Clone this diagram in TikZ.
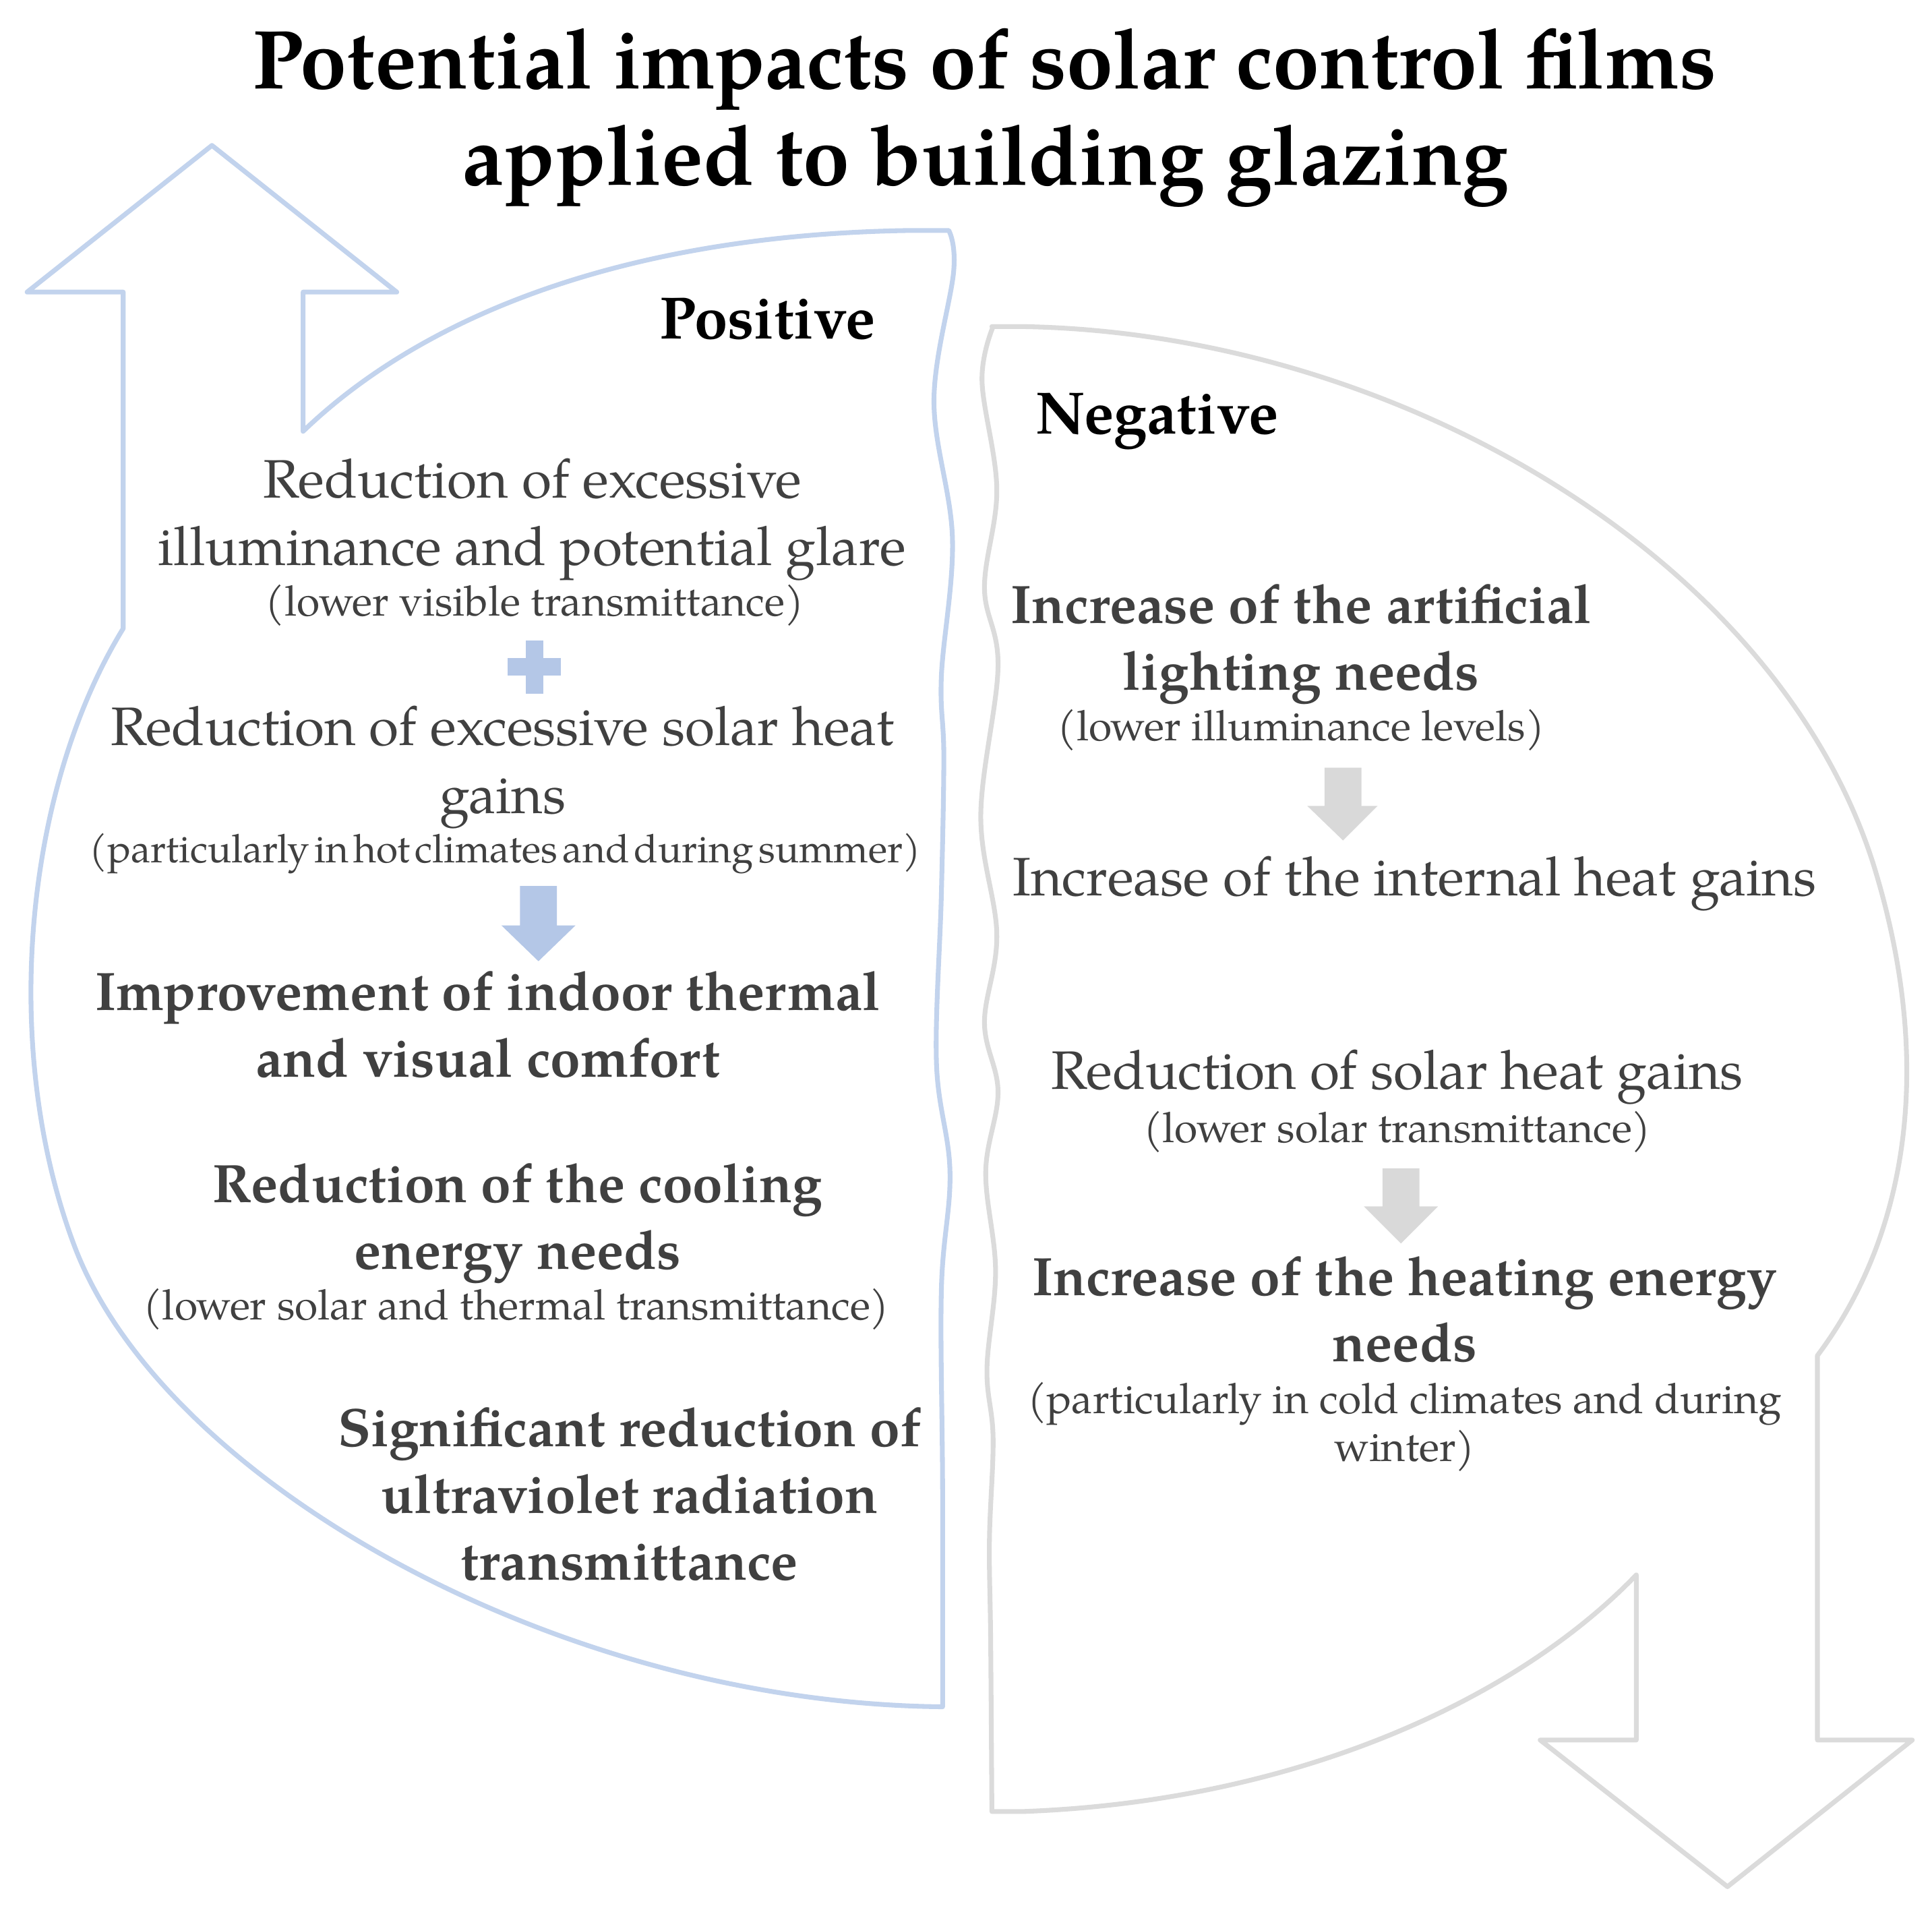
\documentclass[tikz,border=0pt]{standalone}
\usepackage{fontspec}
\setmainfont{texgyrepagella}[Extension=.otf, UprightFont=*-regular, BoldFont=*-bold, ItalicFont=*-italic, BoldItalicFont=*-bolditalic]
\definecolor{blueedge}{RGB}{194,211,237}
\definecolor{bluefill}{RGB}{180,199,231}
\definecolor{grayedge}{RGB}{219,219,219}
\definecolor{grayfill}{RGB}{217,217,217}
\definecolor{txtgray}{RGB}{64,64,64}
\begin{document}
\begin{tikzpicture}[x=0.1mm,y=-0.1mm,
  ttl/.style={anchor=base, inner sep=0pt, font=\fontsize{19.3}{22}\selectfont\bfseries, text=black},
  hd/.style={anchor=base, inner sep=0pt, font=\fontsize{13.8}{16}\selectfont\bfseries, text=black},
  bodyr/.style={anchor=base, inner sep=0pt, font=\fontsize{12.5}{15}\selectfont, text=txtgray},
  bodyb/.style={anchor=base, inner sep=0pt, font=\fontsize{12.5}{15}\selectfont\bfseries, text=txtgray},
  smalltxt/.style={anchor=base, inner sep=0pt, font=\fontsize{9.7}{11}\selectfont, text=txtgray},
  tightsmall/.style={anchor=base, inner sep=0pt, font=\fontsize{9.1}{11}\selectfont, text=txtgray},
  blueline/.style={draw=blueedge, line width=1.1pt, line join=round},
  grayline/.style={draw=grayedge, line width=1.1pt, line join=round},
  bluefillst/.style={fill=bluefill, draw=none},
  grayfillst/.style={fill=grayfill, draw=none}]
\fill[white] (0,0) rectangle (1568,1548);
\useasboundingbox (0,0) rectangle (1568,1548);

% left (positive) outline
\draw[blueline] (172,118) -- (322,237) -- (246,237) -- (246,350)
  .. controls (350,250) and (520,190) .. (740,187) -- (770,187)
  -- plot[smooth, tension=0.6] coordinates {(770,187) (774,220) (758,325) (773,437) (764,549) (766,614) (764,726) (760,862) (771,951) (764,1047) (765,1208) (765,1385)}
  .. controls (450,1382) and (131,1200) .. (60,1010)
  .. controls (0,850) and (20,640) .. (100,510)
  -- (100,237) -- (22,237) -- cycle;

% right (negative) outline
\draw[grayline] (805,265) -- (830,265)
  .. controls (1130,270) and (1440,450) .. (1520,700)
  .. controls (1570,860) and (1550,1000) .. (1475,1100)
  -- (1475,1412) -- (1552,1412) -- (1402,1531) -- (1250,1412) -- (1328,1412) -- (1328,1278)
  .. controls (1230,1380) and (1050,1462) .. (830,1470) -- (805,1470)
  -- plot[smooth, tension=0.6] coordinates {(805,1470) (804,1330) (803,1250) (806,1167) (801,1111) (808,1031) (800,951) (810,886) (799,830) (809,758) (796,662) (810,541) (799,477) (809,397) (797,309) (806,265)} -- cycle;

% title
\node[ttl] (t1) at (799,72) {Potential impacts of solar control films};
\node[ttl] (t2) at (800,150) {applied to building glazing};

% positive
\node[hd] (pos) at (623,275) {Positive};
\node[bodyr] (p1) at (432,404) {Reduction of excessive};
\node[bodyr] (p2) at (432,459) {illuminance and potential glare};
\node[smalltxt] (p3) at (434,500) {(lower visible transmittance)};
\fill[bluefillst] (412,534) rectangle (455,548);
\fill[bluefillst] (427,520) rectangle (441,563);
\node[bodyr] (p4) at (408,605) {Reduction of excessive solar heat};
\node[bodyr] (p5) at (408,660) {gains};
\node[tightsmall] (p6) at (410,700) {\spaceskip=1.1pt plus 0.2pt\relax(particularly in hot climates and during summer)};
\fill[bluefillst] (422,719) -- (452,719) -- (452,751) -- (467,751) -- (437,780) -- (407,751) -- (422,751) -- cycle;
\node[bodyb] (p7) at (396,820) {Improvement of indoor thermal};
\node[bodyb] (p8) at (396,874) {and visual comfort};
\node[bodyb] (p9) at (420,976) {Reduction of the cooling};
\node[bodyb] (p10) at (420,1030) {energy needs};
\node[smalltxt] (p11) at (419,1071) {(lower solar and thermal transmittance)};
\node[bodyb] (p12) at (511,1174) {Significant reduction of};
\node[bodyb] (p13) at (511,1228) {ultraviolet radiation};
\node[bodyb] (p14) at (511,1282) {transmittance};

% negative
\node[hd] (neg) at (939,352) {Negative};
\node[bodyb] (n1) at (1056,506) {Increase of the artificial};
\node[bodyb] (n2) at (1056,560) {lighting needs};
\node[smalltxt] (n3) at (1056,601) {(lower illuminance levels)};
\fill[grayfillst] (1075,623) -- (1105,623) -- (1105,654) -- (1118,654) -- (1090,682) -- (1061,654) -- (1075,654) -- cycle;
\node[bodyr] (n4) at (1148,727) {Increase of the internal heat gains};
\node[bodyr] (n5) at (1134,884) {Reduction of solar heat gains};
\node[smalltxt] (n6) at (1134,927) {(lower solar transmittance)};
\fill[grayfillst] (1122,948) -- (1152,948) -- (1152,979) -- (1167,979) -- (1137,1009) -- (1107,979) -- (1122,979) -- cycle;
\node[bodyb] (n7) at (1140,1051) {Increase of the heating energy};
\node[bodyb] (n8) at (1140,1105) {needs};
\node[smalltxt] (n9) at (1140,1147) {(particularly in cold climates and during};
\node[smalltxt] (n10) at (1140,1186) {winter)};
\end{tikzpicture}
\end{document}
